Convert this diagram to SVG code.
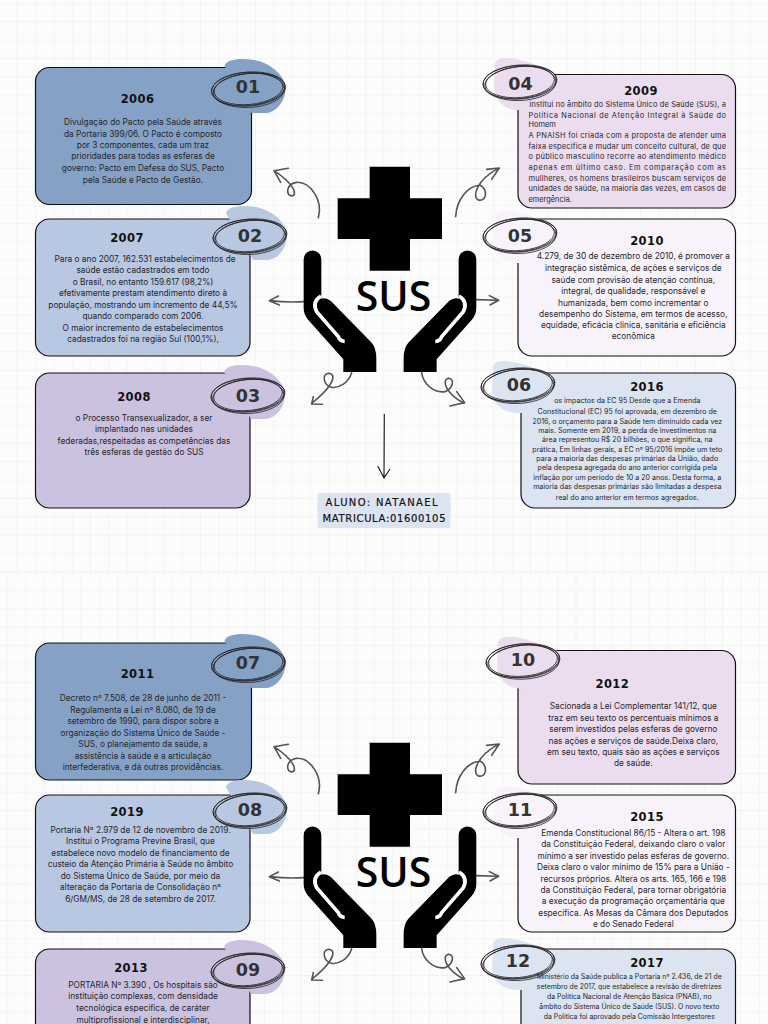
<svg xmlns="http://www.w3.org/2000/svg" width="768" height="1024" viewBox="0 0 768 1024">
<style>
text{fill:#26262b;font-family:"Inter","Liberation Sans",sans-serif}
.b{font-size:8.3px;text-anchor:middle}
.s{font-size:7.4px}
.x{font-size:7.1px}
.t{font-size:6.9px}
.y{font-family:"DejaVu Sans",sans-serif;font-weight:700;font-size:11.5px;letter-spacing:.4px;text-anchor:middle;fill:#111}
.n{font-family:"DejaVu Sans",sans-serif;font-weight:700;font-size:17.5px;text-anchor:middle;fill:#333}
.c{stroke:#111;stroke-width:1.2}
.o{fill:none;stroke:#222;stroke-width:.8}
.a{fill:none;stroke:#55554f;stroke-width:4.8;stroke-linecap:round;stroke-linejoin:round}
.l{font-family:"DejaVu Sans",sans-serif;font-size:10px;fill:#111;stroke:#111;stroke-width:.2}
.u{font-family:"Open Sans",sans-serif;font-size:41px;font-weight:600;text-anchor:middle;fill:#000}
.blue{fill:#85a2c6}.sky{fill:#b8c8e2}.lil{fill:#cbc2e0}.pin{fill:#ebdcef}.pal{fill:#f8f3fb}.ice{fill:#dce4f2}
</style>
<defs>
<pattern id="g1" width="18.33" height="18.33" x="16.7" y="3" patternUnits="userSpaceOnUse"><path d="M0 0H18.33M0 0V18.33" fill="none" stroke="#ebebeb" stroke-width="1"/></pattern>
<pattern id="g2" width="18.33" height="18.33" x="7.3" y="3.5" patternUnits="userSpaceOnUse"><path d="M0 0H18.33M0 0V18.33" fill="none" stroke="#ebebeb" stroke-width="1"/></pattern>
<path id="br" d="M-24-20C-22-27-8-28 5-26 20-24 35-12 37 0 38 12 30 26 18 27L3 27Z"/>
<path id="bl" d="M-25-14C-28-24-15-26 0-22 10-20 24-14 34-10L34 28 0 28C-15 28-25 20-26 5Z"/>
<g id="ov">
<ellipse class="o" cx="0" cy="0" rx="37" ry="17" transform="rotate(-4)"/>
<ellipse class="o" cx=".5" cy=".5" rx="36" ry="16" transform="rotate(-6)"/>
<ellipse class="o" cx="-.5" cy="1" rx="36.5" ry="17.5" transform="rotate(-2)"/>
<ellipse class="o" cx="0" cy="0" rx="34.5" ry="15.5" transform="rotate(-5)" stroke-width="1.4"/>
</g>
<g id="hand">
<path d="M131 328A26.5 26.5 0 0 1 184 328V432L184 446Q195 442 212 452L335 578Q349 594 349 625V666H250V628L145 510Q131 495 131 475Z" fill="#000"/>
<path d="M183 438Q155 455 170 485L235 560Q240 574 254 574" fill="none" stroke="#fff" stroke-width="11"/>
</g>
<g id="emblem">
<path d="M329 50H450V145H546V267H450V362H329V267H233V145H329Z" fill="#000"/>
<use href="#hand"/>
<use href="#hand" transform="translate(780 0) scale(-1 1)"/>
</g>
<g id="arrows">
<path class="a" d="M175 203C190 150 150 95 110 97 80 100 75 135 95 138 115 135 100 100 42 62M85 55L42 62 62 97"/>
<path class="a" d="M587 200C590 150 620 110 660 105 685 120 680 155 655 150 635 140 650 90 715 55M680 58L718 54 695 88"/>
<path class="a" d="M131 455Q80 458 30 452M55 438L28 452 58 465"/>
<path class="a" d="M650 449L715 451M688 437L716 451 690 465"/>
<path class="a" d="M275 668C265 700 235 715 215 712 190 705 185 675 205 670 230 670 225 705 155 760M160 740L155 762 187 763"/>
<path class="a" d="M485 668C490 705 525 730 555 725 580 715 585 685 565 685 545 690 555 730 612 760M590 725L614 758 570 768"/>
</g>
</defs>
<rect width="768" height="1024" fill="#fcfcfc"/>
<rect width="768" height="575" fill="url(#g1)"/>
<rect y="575" width="768" height="449" fill="url(#g2)"/>

<g id="connectors">
<use href="#arrows" transform="translate(260 150) scale(.3333)"/>
<use href="#arrows" transform="translate(260 726) scale(.3333)"/>
<path d="M384.3 414L384 478M377.7 466L384 478 390 469" fill="none" stroke="#111" stroke-width="1.1"/>
</g>
<g id="emblem-1"><use href="#emblem" transform="translate(260 150) scale(.3333)"/><text class="u" x="393.500" y="310.500">SUS</text></g>
<g id="emblem-2"><use href="#emblem" transform="translate(260 726) scale(.3333)"/><text class="u" x="393.500" y="886.500">SUS</text></g>

<g id="aluno"><rect x="317.500" y="493" width="133" height="35" rx="2" class="ice"/>
<text class="l" x="325.500" y="505.500" textLength="112">ALUNO: NATANAEL</text>
<text class="l" x="322.500" y="522" textLength="123">MATRICULA:01600105</text></g>

<g id="n01"><rect class="c blue" x="35.500" y="67.500" width="216" height="137" rx="14"/><use href="#br" class="blue" transform="translate(248.500 86)"/><use href="#ov" transform="translate(248.500 89)"/><text class="n" x="248" y="92.500">01</text><text class="y" x="137.500" y="102.700">2006</text>
<text class="b"><tspan x="143" y="125">Divulgação do Pacto pela Saúde através</tspan><tspan x="143" y="136.700">da Portaria 399/06. O Pacto é composto</tspan><tspan x="143" y="147.700">por 3 componentes, cada um traz</tspan><tspan x="143" y="159.300">prioridades para todas as esferas de</tspan><tspan x="143" y="171">governo: Pacto em Defesa do SUS, Pacto</tspan><tspan x="143" y="182.700">pela Saúde e Pacto de Gestão.</tspan></text></g>

<g id="n02"><rect class="c sky" x="35.500" y="219" width="214.500" height="137" rx="14"/><use href="#br" class="sky" transform="translate(250 233)"/><use href="#ov" transform="translate(250 236)"/><text class="n" x="250" y="241.700">02</text><text class="y" x="127" y="241.700">2007</text>
<text class="b"><tspan x="145" y="261.700">Para o ano 2007, 162.531 estabelecimentos de</tspan><tspan x="143" y="273.300">saúde estão cadastrados em todo</tspan><tspan x="143" y="285">o Brasil, no entanto 159.617 (98,2%)</tspan><tspan x="143" y="296">efetivamente prestam atendimento direto à</tspan><tspan x="143" y="307.700">população, mostrando um incremento de 44,5%</tspan><tspan x="143" y="319.300">quando comparado com 2006.</tspan><tspan x="143" y="331">O maior incremento de estabelecimentos</tspan><tspan x="143" y="342.300">cadastrados foi na região Sul (100,1%),</tspan></text></g>

<g id="n03"><rect class="c lil" x="35.500" y="373" width="214.500" height="135" rx="14"/><use href="#br" class="lil" transform="translate(248 392)"/><use href="#ov" transform="translate(248 395)"/><text class="n" x="248" y="401.700">03</text><text class="y" x="134" y="400.700">2008</text>
<text class="b"><tspan x="144" y="420.700">o Processo Transexualizador, a ser</tspan><tspan x="144" y="432.300">implantado nas unidades</tspan><tspan x="144" y="444">federadas,respeitadas as competências das</tspan><tspan x="144" y="455">três esferas de gestão do SUS</tspan></text></g>

<g id="n04"><rect class="c pin" x="518" y="74.500" width="217.500" height="133.500" rx="14"/><use href="#bl" class="pin" transform="translate(520 82)"/><use href="#ov" transform="translate(520 82)"/><text class="n" x="520.500" y="90">04</text><text class="y" x="641" y="95">2009</text>
<text class="s"><tspan x="529.500" y="106.700" textLength="196.500">institui no âmbito do Sistema Único de Saúde (SUS), a</tspan><tspan x="528.500" y="117.700" textLength="197.500">Política Nacional de Atenção Integral à Saúde do</tspan><tspan x="528.500" y="127.300">Homem</tspan><tspan x="528.500" y="138.300" textLength="197.500">A PNAISH foi criada com a proposta de atender uma</tspan><tspan x="528.500" y="148.700" textLength="197.500">faixa específica e mudar um conceito cultural, de que</tspan><tspan x="528.500" y="159.300" textLength="197.500">o público masculino recorre ao atendimento médico</tspan><tspan x="528.500" y="170" textLength="197.500">apenas em último caso. Em comparação com as</tspan><tspan x="528.500" y="180.700" textLength="197.500">mullheres, os homens brasileiros buscam serviços de</tspan><tspan x="528.500" y="191.300" textLength="197.500">unidades de saúde, na maioria das vezes, em casos de</tspan><tspan x="528.500" y="202">emergência.</tspan></text></g>

<g id="n05"><rect class="c pal" x="518" y="219" width="217.500" height="137" rx="14"/><use href="#bl" class="pal" transform="translate(520 235)"/><use href="#ov" transform="translate(520 235)"/><text class="n" x="520" y="242">05</text><text class="y" x="647" y="245.300">2010</text>
<text class="b"><tspan x="633.300" y="259.300">4.279, de 30 de dezembro de 2010, é promover a</tspan><tspan x="633.300" y="270.700">integração sistêmica, de ações e serviços de</tspan><tspan x="633.300" y="282.700">saúde com provisão de atenção contínua,</tspan><tspan x="633.300" y="294">integral, de qualidade, responsável e</tspan><tspan x="633.300" y="305.700">humanizada, bem como incrementar o</tspan><tspan x="633.300" y="316.700">desempenho do Sistema, em termos de acesso,</tspan><tspan x="633.300" y="328.300">equidade, eficácia clínica, sanitária e eficiência</tspan><tspan x="633.300" y="339.300">econômica</tspan></text></g>

<g id="n06"><rect class="c ice" x="521" y="373" width="214.500" height="135" rx="14"/><use href="#bl" class="ice" transform="translate(518 385)"/><use href="#ov" transform="translate(518 385)"/><text class="n" x="519" y="391">06</text><text class="y" x="647" y="390.700">2016</text>
<text class="b x"><tspan x="627.300" y="403.300">os impactos da EC 95  Desde que a Emenda</tspan><tspan x="627.300" y="413.700">Constitucional (EC) 95 foi aprovada, em dezembro de</tspan><tspan x="627.300" y="423.700">2016, o orçamento para a Saúde tem diminuido cada vez</tspan><tspan x="627.300" y="433">mais. Somente em 2019, a perda de investimentos na</tspan><tspan x="627.300" y="441.700">área representou R$ 20 bilhões, o que significa, na</tspan><tspan x="627.300" y="451.700">prática,  Em linhas gerais, a EC nº 95/2016 impõe um teto</tspan><tspan x="627.300" y="461">para a maioria das despesas primárias da União, dado</tspan><tspan x="627.300" y="470.300">pela despesa agregada do ano anterior corrigida pela</tspan><tspan x="627.300" y="479.700">inflação por um período de 10 a 20 anos. Desta forma, a</tspan><tspan x="627.300" y="489.300">maioria das despesas primárias são limitadas a despesa</tspan><tspan x="627.300" y="499.700">real do ano anterior em termos agregados.</tspan></text></g>

<g id="n07"><rect class="c blue" x="35.500" y="643" width="216" height="137" rx="14"/><use href="#br" class="blue" transform="translate(248.500 661)"/><use href="#ov" transform="translate(248.500 664)"/><text class="n" x="248" y="669">07</text><text class="y" x="137.500" y="677.700">2011</text>
<text class="b"><tspan x="143" y="700.700">Decreto nº 7.508, de 28 de junho de 2011 -</tspan><tspan x="143" y="712.700">Regulamenta a Lei nº 8.080, de 19 de</tspan><tspan x="143" y="724">setembro de 1990, para dispor sobre a</tspan><tspan x="143" y="735.700">organização do Sistema Único de Saúde -</tspan><tspan x="143" y="746.700">SUS, o planejamento da saúde, a</tspan><tspan x="143" y="758.700">assistência à saúde e a articulação</tspan><tspan x="143" y="769.700">interfederativa, e dá outras providências.</tspan></text></g>

<g id="n08"><rect class="c sky" x="35.500" y="795" width="214.500" height="137" rx="14"/><use href="#br" class="sky" transform="translate(250 807)"/><use href="#ov" transform="translate(250 810)"/><text class="n" x="250" y="816">08</text><text class="y" x="127" y="816">2019</text>
<text class="b"><tspan x="140.500" y="832.700">Portaria Nº 2.979 de 12 de novembro de 2019.</tspan><tspan x="140.500" y="844">Institui o Programa Previne Brasil, que</tspan><tspan x="140.500" y="855.700">estabelece novo modelo de financiamento de</tspan><tspan x="140.500" y="867">custeio da Atenção Primária à Saúde no âmbito</tspan><tspan x="140.500" y="878.700">do Sistema Único de Saúde, por meio da</tspan><tspan x="140.500" y="890">alteração da Portaria de Consolidação nº</tspan><tspan x="140.500" y="901.700">6/GM/MS, de 28 de setembro de 2017.</tspan></text></g>

<g id="n09"><rect class="c lil" x="35.500" y="949" width="214.500" height="135" rx="14"/><use href="#br" class="lil" transform="translate(248 967)"/><use href="#ov" transform="translate(248 970)"/><text class="n" x="248" y="976">09</text><text class="y" x="131" y="971.700">2013</text>
<text class="b"><tspan x="143" y="988.300">PORTARIA Nº 3.390 ,  Os hospitais são</tspan><tspan x="143" y="999.300">instituição complexas, com densidade</tspan><tspan x="143" y="1010.700">tecnológica especifica, de caráter</tspan><tspan x="143" y="1023.300">multiprofissional e interdisciplinar,</tspan></text></g>

<g id="n10"><rect class="c pin" x="518" y="650.500" width="217.500" height="133.500" rx="14"/><use href="#bl" class="pin" transform="translate(523 660.700)"/><use href="#ov" transform="translate(523 660.700)"/><text class="n" x="523" y="665.700">10</text><text class="y" x="612.300" y="688.300">2012</text>
<text class="b"><tspan x="633.300" y="709">Sacionada a Lei Complementar 141/12, que</tspan><tspan x="633.300" y="720.700">traz em seu texto os percentuais mínimos a</tspan><tspan x="633.300" y="732.300">serem investidos pelas esferas de governo</tspan><tspan x="633.300" y="743.700">nas ações e serviços de saúde.Deixa claro,</tspan><tspan x="633.300" y="755">em seu texto, quais são as ações e serviços</tspan><tspan x="633.300" y="766.300">de saúde.</tspan></text></g>

<g id="n11"><rect class="c pal" x="518" y="795" width="217.500" height="137" rx="14"/><use href="#bl" class="pal" transform="translate(520 810)"/><use href="#ov" transform="translate(520 810)"/><text class="n" x="520" y="816">11</text><text class="y" x="647" y="821.300">2015</text>
<text class="b"><tspan x="633.300" y="835.700">Emenda Constitucional 86/15 - Altera o art. 198</tspan><tspan x="633.300" y="847">da Constituição Federal, deixando claro o valor</tspan><tspan x="633.300" y="858.700">mínimo a ser investido pelas esferas de governo.</tspan><tspan x="633.300" y="870">Deixa claro o valor mínimo de 15% para a União -</tspan><tspan x="633.300" y="881.700">recursos próprios. Altera os arts. 165, 166 e 198</tspan><tspan x="633.300" y="893">da Constituição Federal, para tornar obrigatória</tspan><tspan x="633.300" y="903.700">a execução da programação orçamentária que</tspan><tspan x="633.300" y="915.700">especifica. As Mesas da Câmara dos Deputados</tspan><tspan x="633.300" y="926.700">e do Senado Federal</tspan></text></g>

<g id="n12"><rect class="c ice" x="521" y="949" width="214.500" height="135" rx="14"/><use href="#bl" class="ice" transform="translate(518 962)"/><use href="#ov" transform="translate(518 962)"/><text class="n" x="518" y="966.700">12</text><text class="y" x="647" y="966.700">2017</text>
<text class="b t"><tspan x="629.300" y="979.300">Ministério da Saúde publica a Portaria nº 2.436, de 21 de</tspan><tspan x="629.300" y="989.300">setembro de 2017, que estabelece a revisão de diretrizes</tspan><tspan x="629.300" y="999.300">da Política Nacional de Atenção Básica (PNAB), no</tspan><tspan x="629.300" y="1009.300">âmbito do Sistema Único de Saúde (SUS). O novo texto</tspan><tspan x="629.300" y="1019.300">da Política foi aprovado pela Comissão Intergestores</tspan></text></g>
</svg>
